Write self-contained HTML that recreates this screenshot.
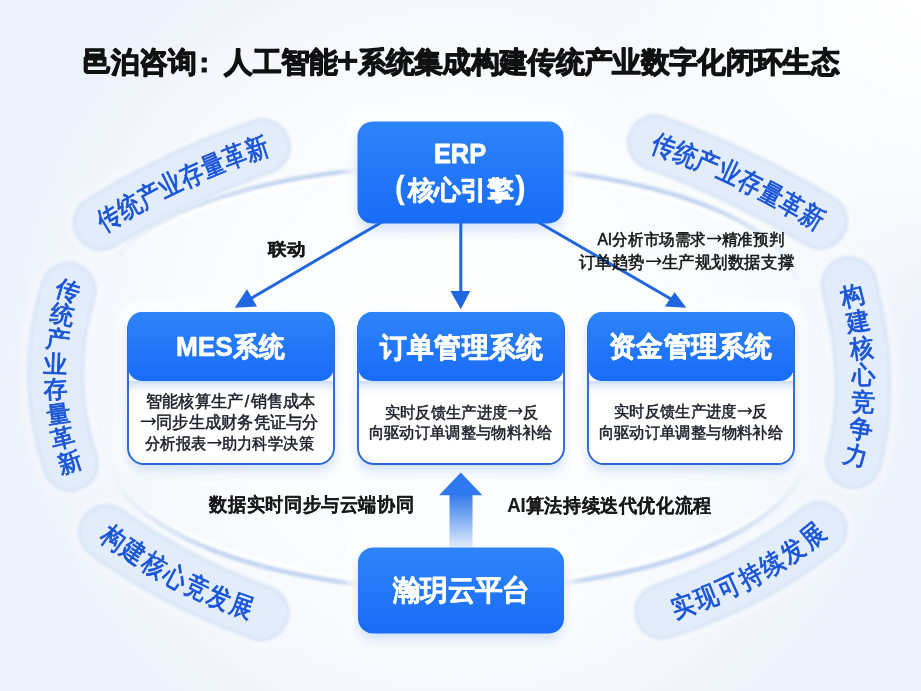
<!DOCTYPE html>
<html><head><meta charset="utf-8">
<style>
html,body{margin:0;padding:0;width:921px;height:691px;overflow:hidden;background:#eef3f9;}
svg{display:block;font-family:"Liberation Sans",sans-serif;}
</style></head>
<body>
<svg width="921" height="691" viewBox="0 0 921 691">
<defs>
  <radialGradient id="bgc" gradientUnits="userSpaceOnUse" cx="460" cy="350" r="470">
    <stop offset="0" stop-color="#ffffff" stop-opacity="1"/>
    <stop offset="0.5" stop-color="#fcfdfe" stop-opacity="0.95"/>
    <stop offset="1" stop-color="#fcfdfe" stop-opacity="0"/>
  </radialGradient>
  <radialGradient id="bgtr" gradientUnits="userSpaceOnUse" cx="921" cy="0" r="330">
    <stop offset="0" stop-color="#ffffff" stop-opacity="1"/>
    <stop offset="0.5" stop-color="#ffffff" stop-opacity="0.7"/>
    <stop offset="1" stop-color="#ffffff" stop-opacity="0"/>
  </radialGradient>
  <linearGradient id="arcmg" gradientUnits="userSpaceOnUse" x1="110" y1="0" x2="810" y2="0">
    <stop offset="0" stop-color="#fff" stop-opacity="0"/>
    <stop offset="0.14" stop-color="#fff" stop-opacity="1"/>
    <stop offset="0.86" stop-color="#fff" stop-opacity="1"/>
    <stop offset="1" stop-color="#fff" stop-opacity="0"/>
  </linearGradient>
  <mask id="arcmask" maskUnits="userSpaceOnUse" x="0" y="0" width="921" height="691"><rect width="921" height="691" fill="url(#arcmg)"/></mask>
  <linearGradient id="hdrsh" x1="0" y1="0" x2="0" y2="1">
    <stop offset="0" stop-color="#c9dbf7"/>
    <stop offset="1" stop-color="#ffffff" stop-opacity="0"/>
  </linearGradient>
  <filter id="blur15" filterUnits="userSpaceOnUse" x="0" y="0" width="921" height="691"><feGaussianBlur stdDeviation="1.6"/></filter>
  <filter id="blur07" filterUnits="userSpaceOnUse" x="0" y="0" width="921" height="691"><feGaussianBlur stdDeviation="0.8"/></filter>
  <filter id="blur3" filterUnits="userSpaceOnUse" x="0" y="0" width="921" height="691"><feGaussianBlur stdDeviation="4"/></filter>
  <linearGradient id="boxg" x1="0" y1="0" x2="0" y2="1">
    <stop offset="0" stop-color="#2e84fa"/>
    <stop offset="1" stop-color="#186cf6"/>
  </linearGradient>
  <linearGradient id="shaft" x1="0" y1="1" x2="0" y2="0">
    <stop offset="0" stop-color="#e3edfb"/>
    <stop offset="1" stop-color="#2f78ee"/>
  </linearGradient>
  <filter id="blur1" filterUnits="userSpaceOnUse" x="0" y="0" width="921" height="691"><feGaussianBlur stdDeviation="1.2"/></filter>
  <filter id="sh" filterUnits="userSpaceOnUse" x="0" y="0" width="921" height="691"><feGaussianBlur stdDeviation="6"/></filter>
</defs>

<rect width="921" height="691" fill="#edf2fa"/>
<rect width="921" height="691" fill="url(#bgc)"/>
<rect width="921" height="691" fill="url(#bgtr)"/>
<g mask="url(#arcmask)"><g fill="none" stroke-linecap="round" filter="url(#blur1)">
<path d="M 118.0 255.8 L 126.5 246.5 L 134.9 239.1 L 143.4 232.8 L 151.9 227.2 L 160.4 222.3 L 168.8 217.8 L 177.3 213.7 L 185.8 210.0 L 194.3 206.5 L 202.8 203.3 L 211.2 200.2 L 219.7 197.4 L 228.2 194.8 L 236.7 192.3 L 245.1 190.0 L 253.6 187.8 L 262.1 185.8 L 270.6 183.9 L 279.0 182.1 L 287.5 180.4 L 296.0 178.8 L 304.4 177.4 L 312.9 176.0 L 321.4 174.7 L 329.9 173.5 L 338.4 172.5 L 346.8 171.5 L 355.3 170.5 L 363.8 169.7 L 372.2 169.0 L 380.7 168.3 L 389.2 167.7 L 397.7 167.2 L 406.1 166.8 L 414.6 166.4 L 423.1 166.1 L 431.6 165.9 L 440.1 165.8 L 448.5 165.7 L 457.0 165.7 L 465.5 165.8 L 473.9 166.0 L 482.4 166.2 L 490.9 166.5 L 499.4 166.9 L 507.9 167.4 L 516.3 167.9 L 524.8 168.5 L 533.3 169.2 L 541.8 170.0 L 550.2 170.9 L 558.7 171.8 L 567.2 172.8 L 575.6 174.0 L 584.1 175.2 L 592.6 176.5 L 601.1 177.9 L 609.5 179.4 L 618.0 181.0 L 626.5 182.7 L 635.0 184.6 L 643.5 186.5 L 651.9 188.6 L 660.4 190.8 L 668.9 193.2 L 677.4 195.7 L 685.8 198.4 L 694.3 201.3 L 702.8 204.4 L 711.2 207.7 L 719.7 211.3 L 728.2 215.2 L 736.7 219.4 L 745.1 224.1 L 753.6 229.2 L 762.1 235.0 L 770.6 241.7 L 779.0 249.7 L 787.5 260.1 L 796.0 278.3" stroke="#ffffff" stroke-width="7" transform="translate(0 4)"/>
<path d="M 118.0 255.8 L 126.5 246.5 L 134.9 239.1 L 143.4 232.8 L 151.9 227.2 L 160.4 222.3 L 168.8 217.8 L 177.3 213.7 L 185.8 210.0 L 194.3 206.5 L 202.8 203.3 L 211.2 200.2 L 219.7 197.4 L 228.2 194.8 L 236.7 192.3 L 245.1 190.0 L 253.6 187.8 L 262.1 185.8 L 270.6 183.9 L 279.0 182.1 L 287.5 180.4 L 296.0 178.8 L 304.4 177.4 L 312.9 176.0 L 321.4 174.7 L 329.9 173.5 L 338.4 172.5 L 346.8 171.5 L 355.3 170.5 L 363.8 169.7 L 372.2 169.0 L 380.7 168.3 L 389.2 167.7 L 397.7 167.2 L 406.1 166.8 L 414.6 166.4 L 423.1 166.1 L 431.6 165.9 L 440.1 165.8 L 448.5 165.7 L 457.0 165.7 L 465.5 165.8 L 473.9 166.0 L 482.4 166.2 L 490.9 166.5 L 499.4 166.9 L 507.9 167.4 L 516.3 167.9 L 524.8 168.5 L 533.3 169.2 L 541.8 170.0 L 550.2 170.9 L 558.7 171.8 L 567.2 172.8 L 575.6 174.0 L 584.1 175.2 L 592.6 176.5 L 601.1 177.9 L 609.5 179.4 L 618.0 181.0 L 626.5 182.7 L 635.0 184.6 L 643.5 186.5 L 651.9 188.6 L 660.4 190.8 L 668.9 193.2 L 677.4 195.7 L 685.8 198.4 L 694.3 201.3 L 702.8 204.4 L 711.2 207.7 L 719.7 211.3 L 728.2 215.2 L 736.7 219.4 L 745.1 224.1 L 753.6 229.2 L 762.1 235.0 L 770.6 241.7 L 779.0 249.7 L 787.5 260.1 L 796.0 278.3" stroke="#c6d7f1" stroke-width="5"/>
<path d="M 112.0 475.3 L 120.7 489.3 L 129.3 499.4 L 137.9 507.6 L 146.6 514.7 L 155.2 520.8 L 163.9 526.4 L 172.6 531.4 L 181.2 536.0 L 189.8 540.2 L 198.5 544.2 L 207.2 547.8 L 215.8 551.2 L 224.4 554.4 L 233.1 557.3 L 241.8 560.1 L 250.4 562.7 L 259.1 565.2 L 267.7 567.5 L 276.4 569.6 L 285.0 571.6 L 293.6 573.5 L 302.3 575.3 L 310.9 576.9 L 319.6 578.5 L 328.2 579.9 L 336.9 581.2 L 345.6 582.4 L 354.2 583.5 L 362.9 584.5 L 371.5 585.4 L 380.1 586.2 L 388.8 587.0 L 397.4 587.6 L 406.1 588.2 L 414.8 588.6 L 423.4 589.0 L 432.1 589.3 L 440.7 589.5 L 449.4 589.6 L 458.0 589.6 L 466.6 589.5 L 475.3 589.4 L 483.9 589.2 L 492.6 588.8 L 501.2 588.4 L 509.9 587.9 L 518.5 587.3 L 527.2 586.7 L 535.9 585.9 L 544.5 585.0 L 553.1 584.1 L 561.8 583.0 L 570.5 581.9 L 579.1 580.6 L 587.8 579.3 L 596.4 577.8 L 605.0 576.2 L 613.7 574.5 L 622.4 572.7 L 631.0 570.8 L 639.6 568.7 L 648.3 566.5 L 657.0 564.1 L 665.6 561.6 L 674.2 558.9 L 682.9 556.1 L 691.5 553.0 L 700.2 549.7 L 708.9 546.2 L 717.5 542.5 L 726.1 538.4 L 734.8 534.0 L 743.5 529.3 L 752.1 524.0 L 760.8 518.2 L 769.4 511.7 L 778.0 504.2 L 786.7 495.3 L 795.4 483.9 L 804.0 465.6" stroke="#ffffff" stroke-width="7" transform="translate(0 -4)"/>
<path d="M 112.0 475.3 L 120.7 489.3 L 129.3 499.4 L 137.9 507.6 L 146.6 514.7 L 155.2 520.8 L 163.9 526.4 L 172.6 531.4 L 181.2 536.0 L 189.8 540.2 L 198.5 544.2 L 207.2 547.8 L 215.8 551.2 L 224.4 554.4 L 233.1 557.3 L 241.8 560.1 L 250.4 562.7 L 259.1 565.2 L 267.7 567.5 L 276.4 569.6 L 285.0 571.6 L 293.6 573.5 L 302.3 575.3 L 310.9 576.9 L 319.6 578.5 L 328.2 579.9 L 336.9 581.2 L 345.6 582.4 L 354.2 583.5 L 362.9 584.5 L 371.5 585.4 L 380.1 586.2 L 388.8 587.0 L 397.4 587.6 L 406.1 588.2 L 414.8 588.6 L 423.4 589.0 L 432.1 589.3 L 440.7 589.5 L 449.4 589.6 L 458.0 589.6 L 466.6 589.5 L 475.3 589.4 L 483.9 589.2 L 492.6 588.8 L 501.2 588.4 L 509.9 587.9 L 518.5 587.3 L 527.2 586.7 L 535.9 585.9 L 544.5 585.0 L 553.1 584.1 L 561.8 583.0 L 570.5 581.9 L 579.1 580.6 L 587.8 579.3 L 596.4 577.8 L 605.0 576.2 L 613.7 574.5 L 622.4 572.7 L 631.0 570.8 L 639.6 568.7 L 648.3 566.5 L 657.0 564.1 L 665.6 561.6 L 674.2 558.9 L 682.9 556.1 L 691.5 553.0 L 700.2 549.7 L 708.9 546.2 L 717.5 542.5 L 726.1 538.4 L 734.8 534.0 L 743.5 529.3 L 752.1 524.0 L 760.8 518.2 L 769.4 511.7 L 778.0 504.2 L 786.7 495.3 L 795.4 483.9 L 804.0 465.6" stroke="#c6d7f1" stroke-width="5"/>
</g>
</g>
<g fill="none" stroke-linecap="round">
<path d="M 101.0 222.7 Q 181.2 173.7 262.5 146.8" stroke="#ffffff" stroke-width="68" opacity="0.35" filter="url(#blur3)"/>
<path d="M 655.2 142.5 Q 735.6 170.9 820.0 221.2" stroke="#ffffff" stroke-width="68" opacity="0.35" filter="url(#blur3)"/>
<path d="M 68.3 290.0 Q 41.8 378.1 70.6 463.6" stroke="#ffffff" stroke-width="68" opacity="0.35" filter="url(#blur3)"/>
<path d="M 849.0 284.4 Q 874.3 385.6 853.6 460.8" stroke="#ffffff" stroke-width="68" opacity="0.35" filter="url(#blur3)"/>
<path d="M 106.4 532.2 Q 176.8 583.0 261.2 612.8" stroke="#ffffff" stroke-width="68" opacity="0.35" filter="url(#blur3)"/>
<path d="M 662.5 611.5 Q 757.5 579.8 819.3 529.3" stroke="#ffffff" stroke-width="68" opacity="0.35" filter="url(#blur3)"/>
<path d="M 101.0 222.7 Q 181.2 173.7 262.5 146.8" stroke="#d9e5f7" stroke-width="57" filter="url(#blur15)"/>
<path d="M 101.0 222.7 Q 181.2 173.7 262.5 146.8" stroke="#e3ecfa" stroke-width="50" filter="url(#blur15)"/>
<path d="M 655.2 142.5 Q 735.6 170.9 820.0 221.2" stroke="#d9e5f7" stroke-width="57" filter="url(#blur15)"/>
<path d="M 655.2 142.5 Q 735.6 170.9 820.0 221.2" stroke="#e3ecfa" stroke-width="50" filter="url(#blur15)"/>
<path d="M 68.3 290.0 Q 41.8 378.1 70.6 463.6" stroke="#d9e5f7" stroke-width="57" filter="url(#blur15)"/>
<path d="M 68.3 290.0 Q 41.8 378.1 70.6 463.6" stroke="#e3ecfa" stroke-width="50" filter="url(#blur15)"/>
<path d="M 849.0 284.4 Q 874.3 385.6 853.6 460.8" stroke="#d9e5f7" stroke-width="57" filter="url(#blur15)"/>
<path d="M 849.0 284.4 Q 874.3 385.6 853.6 460.8" stroke="#e3ecfa" stroke-width="50" filter="url(#blur15)"/>
<path d="M 106.4 532.2 Q 176.8 583.0 261.2 612.8" stroke="#d9e5f7" stroke-width="57" filter="url(#blur15)"/>
<path d="M 106.4 532.2 Q 176.8 583.0 261.2 612.8" stroke="#e3ecfa" stroke-width="50" filter="url(#blur15)"/>
<path d="M 662.5 611.5 Q 757.5 579.8 819.3 529.3" stroke="#d9e5f7" stroke-width="57" filter="url(#blur15)"/>
<path d="M 662.5 611.5 Q 757.5 579.8 819.3 529.3" stroke="#e3ecfa" stroke-width="50" filter="url(#blur15)"/>
</g>
<g fill="#1854d8" stroke="#1854d8" stroke-width="0.85">
<text transform="translate(108.7 218.0) rotate(-31.4) scale(0.840 1)" x="0" y="9.7" font-size="27.0" text-anchor="middle">传</text>
<text transform="translate(128.9 206.1) rotate(-29.7) scale(0.840 1)" x="0" y="9.7" font-size="27.0" text-anchor="middle">统</text>
<text transform="translate(149.4 194.8) rotate(-28.0) scale(0.840 1)" x="0" y="9.7" font-size="27.0" text-anchor="middle">产</text>
<text transform="translate(170.2 184.2) rotate(-26.1) scale(0.840 1)" x="0" y="9.7" font-size="27.0" text-anchor="middle">业</text>
<text transform="translate(191.4 174.2) rotate(-24.2) scale(0.840 1)" x="0" y="9.7" font-size="27.0" text-anchor="middle">存</text>
<text transform="translate(212.9 164.9) rotate(-22.3) scale(0.840 1)" x="0" y="9.7" font-size="27.0" text-anchor="middle">量</text>
<text transform="translate(234.7 156.4) rotate(-20.3) scale(0.840 1)" x="0" y="9.7" font-size="27.0" text-anchor="middle">革</text>
<text transform="translate(256.8 148.7) rotate(-18.3) scale(0.840 1)" x="0" y="9.7" font-size="27.0" text-anchor="middle">新</text>
<text transform="translate(663.7 145.5) rotate(19.5) scale(0.840 1)" x="0" y="9.7" font-size="27.0" text-anchor="middle">传</text>
<text transform="translate(685.8 153.7) rotate(21.4) scale(0.840 1)" x="0" y="9.7" font-size="27.0" text-anchor="middle">统</text>
<text transform="translate(707.6 162.7) rotate(23.3) scale(0.840 1)" x="0" y="9.7" font-size="27.0" text-anchor="middle">产</text>
<text transform="translate(729.1 172.4) rotate(25.0) scale(0.840 1)" x="0" y="9.7" font-size="27.0" text-anchor="middle">业</text>
<text transform="translate(750.3 182.6) rotate(26.6) scale(0.840 1)" x="0" y="9.7" font-size="27.0" text-anchor="middle">存</text>
<text transform="translate(771.2 193.4) rotate(28.1) scale(0.840 1)" x="0" y="9.7" font-size="27.0" text-anchor="middle">量</text>
<text transform="translate(791.9 204.8) rotate(29.5) scale(0.840 1)" x="0" y="9.7" font-size="27.0" text-anchor="middle">革</text>
<text transform="translate(812.3 216.6) rotate(30.8) scale(0.840 1)" x="0" y="9.7" font-size="27.0" text-anchor="middle">新</text>
<text transform="translate(68.3 290.0) rotate(16.7) scale(1.000 1)" x="0" y="8.6" font-size="24.0" text-anchor="middle">传</text>
<text transform="translate(62.1 314.1) rotate(12.2) scale(1.000 1)" x="0" y="8.6" font-size="24.0" text-anchor="middle">统</text>
<text transform="translate(57.8 338.7) rotate(7.4) scale(1.000 1)" x="0" y="8.6" font-size="24.0" text-anchor="middle">产</text>
<text transform="translate(55.7 363.5) rotate(2.3) scale(1.000 1)" x="0" y="8.6" font-size="24.0" text-anchor="middle">业</text>
<text transform="translate(55.9 388.5) rotate(-3.0) scale(1.000 1)" x="0" y="8.6" font-size="24.0" text-anchor="middle">存</text>
<text transform="translate(58.3 413.3) rotate(-8.3) scale(1.000 1)" x="0" y="8.6" font-size="24.0" text-anchor="middle">量</text>
<text transform="translate(63.1 437.8) rotate(-13.6) scale(1.000 1)" x="0" y="8.6" font-size="24.0" text-anchor="middle">革</text>
<text transform="translate(70.0 461.7) rotate(-18.6) scale(1.000 1)" x="0" y="8.6" font-size="24.0" text-anchor="middle">新</text>
<text transform="translate(851.7 295.1) rotate(-14.1) scale(0.950 1)" x="0" y="9.0" font-size="25.0" text-anchor="middle">构</text>
<text transform="translate(857.5 321.4) rotate(-10.7) scale(0.950 1)" x="0" y="9.0" font-size="25.0" text-anchor="middle">建</text>
<text transform="translate(861.6 348.1) rotate(-6.8) scale(0.950 1)" x="0" y="9.0" font-size="25.0" text-anchor="middle">核</text>
<text transform="translate(863.7 374.9) rotate(-2.2) scale(0.950 1)" x="0" y="9.0" font-size="25.0" text-anchor="middle">心</text>
<text transform="translate(863.6 401.9) rotate(3.0) scale(0.950 1)" x="0" y="9.0" font-size="25.0" text-anchor="middle">竞</text>
<text transform="translate(860.8 428.7) rotate(8.9) scale(0.950 1)" x="0" y="9.0" font-size="25.0" text-anchor="middle">争</text>
<text transform="translate(855.2 455.0) rotate(15.4) scale(0.950 1)" x="0" y="9.0" font-size="25.0" text-anchor="middle">力</text>
<text transform="translate(113.7 537.5) rotate(35.8) scale(0.840 1)" x="0" y="9.7" font-size="27.0" text-anchor="middle">构</text>
<text transform="translate(133.8 551.4) rotate(33.5) scale(0.840 1)" x="0" y="9.7" font-size="27.0" text-anchor="middle">建</text>
<text transform="translate(154.4 564.4) rotate(31.0) scale(0.840 1)" x="0" y="9.7" font-size="27.0" text-anchor="middle">核</text>
<text transform="translate(175.6 576.4) rotate(28.3) scale(0.840 1)" x="0" y="9.7" font-size="27.0" text-anchor="middle">心</text>
<text transform="translate(197.3 587.4) rotate(25.5) scale(0.840 1)" x="0" y="9.7" font-size="27.0" text-anchor="middle">竞</text>
<text transform="translate(219.5 597.4) rotate(22.5) scale(0.840 1)" x="0" y="9.7" font-size="27.0" text-anchor="middle">发</text>
<text transform="translate(242.3 606.1) rotate(19.4) scale(0.840 1)" x="0" y="9.7" font-size="27.0" text-anchor="middle">展</text>
<text transform="translate(682.4 604.9) rotate(-18.5) scale(0.840 1)" x="0" y="9.7" font-size="27.0" text-anchor="middle">实</text>
<text transform="translate(705.6 596.5) rotate(-21.4) scale(0.840 1)" x="0" y="9.7" font-size="27.0" text-anchor="middle">现</text>
<text transform="translate(728.4 586.8) rotate(-24.6) scale(0.840 1)" x="0" y="9.7" font-size="27.0" text-anchor="middle">可</text>
<text transform="translate(750.6 575.9) rotate(-28.0) scale(0.840 1)" x="0" y="9.7" font-size="27.0" text-anchor="middle">持</text>
<text transform="translate(772.0 563.6) rotate(-31.6) scale(0.840 1)" x="0" y="9.7" font-size="27.0" text-anchor="middle">续</text>
<text transform="translate(792.6 550.0) rotate(-35.4) scale(0.840 1)" x="0" y="9.7" font-size="27.0" text-anchor="middle">发</text>
<text transform="translate(812.3 535.0) rotate(-39.3) scale(0.840 1)" x="0" y="9.7" font-size="27.0" text-anchor="middle">展</text>
</g>
<rect x="353.5" y="117.5" width="226.0" height="122.0" rx="16" fill="#ffffff" filter="url(#sh)" transform="translate(-6 -6) scale(1)" opacity="0.9"/>
<rect x="124.0" y="308.5" width="226.0" height="172.0" rx="16" fill="#ffffff" filter="url(#sh)" transform="translate(-6 -6) scale(1)" opacity="0.9"/>
<rect x="354.0" y="308.5" width="226.0" height="172.0" rx="16" fill="#ffffff" filter="url(#sh)" transform="translate(-6 -6) scale(1)" opacity="0.9"/>
<rect x="584.0" y="308.5" width="226.0" height="172.0" rx="16" fill="#ffffff" filter="url(#sh)" transform="translate(-6 -6) scale(1)" opacity="0.9"/>
<rect x="354.0" y="543.5" width="226.0" height="106.0" rx="16" fill="#ffffff" filter="url(#sh)" transform="translate(-6 -6) scale(1)" opacity="0.9"/>
<rect x="357.5" y="121.5" width="206.0" height="102.0" rx="14" fill="#2a6fe0" opacity="0.22" filter="url(#sh)" transform="translate(0 6)"/>
<rect x="128.0" y="312.5" width="206.0" height="152.0" rx="14" fill="#2a6fe0" opacity="0.22" filter="url(#sh)" transform="translate(0 6)"/>
<rect x="358.0" y="312.5" width="206.0" height="152.0" rx="14" fill="#2a6fe0" opacity="0.22" filter="url(#sh)" transform="translate(0 6)"/>
<rect x="588.0" y="312.5" width="206.0" height="152.0" rx="14" fill="#2a6fe0" opacity="0.22" filter="url(#sh)" transform="translate(0 6)"/>
<rect x="358.0" y="547.5" width="206.0" height="86.0" rx="14" fill="#2a6fe0" opacity="0.22" filter="url(#sh)" transform="translate(0 6)"/>
<g stroke="#1f66e0" stroke-width="3">
<line x1="382" y1="222" x2="250" y2="299"/>
<line x1="460.8" y1="222" x2="460.8" y2="295"/>
<line x1="538" y1="222" x2="671" y2="299"/>
</g><g fill="#1f66e0">
<polygon points="234.7,307.8 257,306.6 247,289.2"/>
<polygon points="450.4,291 470.2,291 460.8,309.3"/>
<polygon points="686.3,307.8 664.8,306.6 674.6,292.2"/>
</g>
<rect x="357.5" y="121.5" width="206" height="102" rx="15" fill="url(#boxg)"/>
<rect x="128.0" y="313" width="206" height="151" rx="16" fill="#fff" stroke="#2a67d8" stroke-width="1.9"/>
<rect x="129.0" y="381" width="204" height="16" fill="url(#hdrsh)"/>
<path d="M128.0 326 a14 14 0 0 1 14 -14 h178 a14 14 0 0 1 14 14 v41 a14 14 0 0 1 -14 14 h-178 a14 14 0 0 1 -14 -14 z" fill="url(#boxg)"/>
<rect x="358.0" y="313" width="206" height="151" rx="16" fill="#fff" stroke="#2a67d8" stroke-width="1.9"/>
<rect x="359.0" y="381" width="204" height="16" fill="url(#hdrsh)"/>
<path d="M358.0 326 a14 14 0 0 1 14 -14 h178 a14 14 0 0 1 14 14 v41 a14 14 0 0 1 -14 14 h-178 a14 14 0 0 1 -14 -14 z" fill="url(#boxg)"/>
<rect x="588.0" y="313" width="206" height="151" rx="16" fill="#fff" stroke="#2a67d8" stroke-width="1.9"/>
<rect x="589.0" y="381" width="204" height="16" fill="url(#hdrsh)"/>
<path d="M588.0 326 a14 14 0 0 1 14 -14 h178 a14 14 0 0 1 14 14 v41 a14 14 0 0 1 -14 14 h-178 a14 14 0 0 1 -14 -14 z" fill="url(#boxg)"/>
<rect x="449.5" y="494" width="23" height="54" fill="url(#shaft)"/>
<polygon points="439,495.2 482.4,495.2 460.8,472.4" fill="#2f78ee"/>
<rect x="358" y="547.5" width="206" height="86" rx="15" fill="url(#boxg)"/>
<g transform="translate(82.78 71.62) scale(0.9137 0.9195)">
<text x="0.00 31.00 62.00 93.00 127.72 155.00 186.00 217.00 248.00 300.70 331.70 362.70 393.70 424.70 455.70 486.70 517.70 548.70 579.70 610.70 641.70 672.70 703.70 734.70 765.70 796.70" y="0" font-size="31.00" font-weight="700" fill="#111111" stroke="#111111" stroke-width="1.30" stroke-linejoin="round">邑泊咨询:人工智能系统集成构建传统产业数字化闭环生态</text>
<path d="M 279.31 -11.78 H 300.39 M 289.85 -22.32 V -1.24" fill="none" stroke="#111111" stroke-width="4.65"/>
</g>
<g transform="translate(433.89 163.44) scale(1.1051 1.2420)">
<text x="0.00 15.34 31.95" y="0" font-size="23.00" font-weight="700" fill="#ffffff" stroke="#ffffff" stroke-width="0.70" stroke-linejoin="round">ERP</text>
</g>
<g transform="translate(407.66 198.63) scale(0.9090 0.8791)">
<text x="0.00 29.00 58.00 87.00" y="0" font-size="29.00" font-weight="700" fill="#ffffff" stroke="#ffffff" stroke-width="0.70" stroke-linejoin="round">核心引擎</text>
</g>
<g transform="translate(395.30 197.81) scale(0.8691 0.9511)">
<text x="0.00" y="0" font-size="32.00" font-weight="700" fill="#ffffff" stroke="#ffffff" stroke-width="0.30" stroke-linejoin="round">(</text>
</g>
<g transform="translate(515.31 197.81) scale(0.9676 0.9511)">
<text x="0.00" y="0" font-size="32.00" font-weight="700" fill="#ffffff" stroke="#ffffff" stroke-width="0.30" stroke-linejoin="round">)</text>
</g>
<g transform="translate(175.96 356.06) scale(0.8723 0.9145)">
<text x="0.00 24.99 45.00 65.01 95.01" y="0" font-size="30.00" font-weight="700" fill="#ffffff" stroke="#ffffff" stroke-width="0.70" stroke-linejoin="round">MES系统</text>
</g>
<g transform="translate(380.43 356.55) scale(0.8723 0.9145)">
<text x="0.00 31.00 62.00 93.00 124.00 155.00" y="0" font-size="31.00" font-weight="700" fill="#ffffff" stroke="#ffffff" stroke-width="0.70" stroke-linejoin="round">订单管理系统</text>
</g>
<g transform="translate(609.47 356.08) scale(0.8723 0.9145)">
<text x="0.00 31.00 62.00 93.00 124.00 155.00" y="0" font-size="31.00" font-weight="700" fill="#ffffff" stroke="#ffffff" stroke-width="0.70" stroke-linejoin="round">资金管理系统</text>
</g>
<g transform="translate(145.80 407.41) scale(0.9022 0.9462)">
<text x="0.00 18.00 36.00 54.00 72.00 90.00 109.62 116.28 134.28 152.28 170.28" y="0" font-size="18.00" font-weight="400" fill="#1b1f2a" stroke="#1b1f2a" stroke-width="0.55" stroke-linejoin="round">智能核算生产/销售成本</text>
</g>
<g transform="translate(139.90 428.15) scale(0.9022 0.9462)">
<text x="18.00 36.00 54.00 72.00 90.00 108.00 126.00 144.00 162.00 180.00" y="0" font-size="18.00" font-weight="400" fill="#1b1f2a" stroke="#1b1f2a" stroke-width="0.55" stroke-linejoin="round">同步生成财务凭证与分</text>
<path d="M 1.08 -7.20 H 16.32 M 13.32 -10.80 L 16.92 -7.20 L 13.32 -3.60" fill="none" stroke="#1b1f2a" stroke-width="1.54"/>
</g>
<g transform="translate(145.14 449.20) scale(0.9022 0.9462)">
<text x="0.00 17.00 34.00 51.00 85.00 102.00 119.00 136.00 153.00 170.00" y="0" font-size="17.00" font-weight="400" fill="#1b1f2a" stroke="#1b1f2a" stroke-width="0.55" stroke-linejoin="round">分析报表助力科学决策</text>
<path d="M 69.02 -6.80 H 83.38 M 80.58 -10.20 L 83.98 -6.80 L 80.58 -3.40" fill="none" stroke="#1b1f2a" stroke-width="1.47"/>
</g>
<g transform="translate(384.58 417.50) scale(0.9022 0.9462)">
<text x="0.00 17.00 34.00 51.00 68.00 85.00 102.00 119.00 153.00" y="0" font-size="17.00" font-weight="400" fill="#1b1f2a" stroke="#1b1f2a" stroke-width="0.55" stroke-linejoin="round">实时反馈生产进度反</text>
<path d="M 137.02 -6.80 H 151.38 M 148.58 -10.20 L 151.98 -6.80 L 148.58 -3.40" fill="none" stroke="#1b1f2a" stroke-width="1.47"/>
</g>
<g transform="translate(368.78 438.30) scale(0.9022 0.9462)">
<text x="0.00 17.00 34.00 51.00 68.00 85.00 102.00 119.00 136.00 153.00 170.00 187.00" y="0" font-size="17.00" font-weight="400" fill="#1b1f2a" stroke="#1b1f2a" stroke-width="0.55" stroke-linejoin="round">向驱动订单调整与物料补给</text>
</g>
<g transform="translate(614.12 417.49) scale(0.9022 0.9462)">
<text x="0.00 17.00 34.00 51.00 68.00 85.00 102.00 119.00 153.00" y="0" font-size="17.00" font-weight="400" fill="#1b1f2a" stroke="#1b1f2a" stroke-width="0.55" stroke-linejoin="round">实时反馈生产进度反</text>
<path d="M 137.02 -6.80 H 151.38 M 148.58 -10.20 L 151.98 -6.80 L 148.58 -3.40" fill="none" stroke="#1b1f2a" stroke-width="1.47"/>
</g>
<g transform="translate(598.81 437.56) scale(0.9022 0.9462)">
<text x="0.00 17.00 34.00 51.00 68.00 85.00 102.00 119.00 136.00 153.00 170.00 187.00" y="0" font-size="17.00" font-weight="400" fill="#1b1f2a" stroke="#1b1f2a" stroke-width="0.55" stroke-linejoin="round">向驱动订单调整与物料补给</text>
</g>
<g transform="translate(267.96 254.96) scale(0.9980 0.9212)">
<text x="0.00 19.00" y="0" font-size="19.00" font-weight="700" fill="#1a1a1a" stroke="#1a1a1a" stroke-width="0.50" stroke-linejoin="round">联动</text>
</g>
<g transform="translate(597.41 245.03) scale(0.9211 0.9551)">
<text x="0.00 11.34 16.07 33.06 50.06 67.06 84.06 101.06 135.06 152.06 169.06 186.06" y="0" font-size="17.00" font-weight="400" fill="#161616" stroke="#161616" stroke-width="0.60" stroke-linejoin="round">AI分析市场需求精准预判</text>
<path d="M 119.08 -6.80 H 133.44 M 130.64 -10.20 L 134.04 -6.80 L 130.64 -3.40" fill="none" stroke="#161616" stroke-width="1.49"/>
</g>
<g transform="translate(578.66 268.10) scale(0.9211 0.9551)">
<text x="0.00 18.00 36.00 54.00 90.00 108.00 126.00 144.00 162.00 180.00 198.00 216.00" y="0" font-size="18.00" font-weight="400" fill="#161616" stroke="#161616" stroke-width="0.60" stroke-linejoin="round">订单趋势生产规划数据支撑</text>
<path d="M 73.08 -7.20 H 88.32 M 85.32 -10.80 L 88.92 -7.20 L 85.32 -3.60" fill="none" stroke="#161616" stroke-width="1.56"/>
</g>
<g transform="translate(209.48 511.43) scale(0.8461 0.8861)">
<text x="0.00 22.00 44.00 66.00 88.00 110.00 132.00 154.00 176.00 198.00 220.00" y="0" font-size="22.00" font-weight="700" fill="#1a1a1a" stroke="#1a1a1a" stroke-width="0.15" stroke-linejoin="round">数据实时同步与云端协同</text>
</g>
<g transform="translate(507.19 511.55) scale(0.8461 0.8861)">
<text x="0.00 15.88 22.00 44.00 66.00 88.00 110.00 132.00 154.00 176.00 198.00 220.00" y="0" font-size="22.00" font-weight="700" fill="#1a1a1a" stroke="#1a1a1a" stroke-width="0.15" stroke-linejoin="round">AI算法持续迭代优化流程</text>
</g>
<g transform="translate(393.06 599.87) scale(0.8801 0.9195)">
<text x="0.00 31.00 62.00 93.00 124.00" y="0" font-size="31.00" font-weight="700" fill="#ffffff" stroke="#ffffff" stroke-width="0.70" stroke-linejoin="round">瀚玥云平台</text>
</g>
</svg></body></html>
